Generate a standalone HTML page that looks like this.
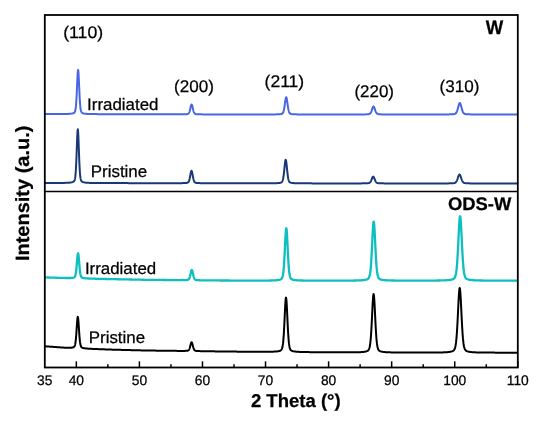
<!DOCTYPE html>
<html><head><meta charset="utf-8"><title>XRD patterns</title>
<style>
html,body{margin:0;padding:0;background:#fff;}
body{width:550px;height:421px;overflow:hidden;}
svg{display:block;}
text{text-rendering:geometricPrecision;font-family:"Liberation Sans",Arial,sans-serif;fill:#000;stroke:#000;stroke-width:0.25;}
.n{font-weight:normal;}
.b{font-weight:bold;}
.tk{font-size:13.8px;text-anchor:middle;}
</style></head><body>
<svg width="550" height="421" viewBox="0 0 550 421">
<rect width="550" height="421" fill="#fff"/>
<polyline fill="none" stroke="#4866e4" stroke-width="2.0" stroke-linejoin="round" points="45.00,113.88 45.50,113.88 46.00,113.89 46.50,113.90 47.00,113.90 47.50,113.91 48.00,113.91 48.50,113.92 49.00,113.93 49.50,113.93 50.00,113.94 50.50,113.94 51.00,113.95 51.50,113.95 52.00,113.96 52.50,113.97 53.00,113.97 53.50,113.98 54.00,113.98 54.50,113.99 55.00,113.99 55.50,114.00 56.00,114.00 56.50,114.00 57.00,114.01 57.50,114.01 58.00,114.02 58.50,114.02 59.00,114.02 59.50,114.03 60.00,114.03 60.50,114.03 61.00,114.03 61.50,114.02 62.00,114.02 62.50,114.01 63.00,114.01 63.50,114.00 64.00,114.00 64.50,113.99 65.00,113.98 65.50,113.97 66.00,113.96 66.50,113.95 67.00,113.94 67.50,113.92 68.00,113.90 68.50,113.88 69.00,113.86 69.50,113.83 70.00,113.79 70.50,113.75 71.00,113.70 71.50,113.63 72.00,113.55 72.50,113.45 73.00,113.32 73.50,113.15 74.00,112.89 74.50,112.45 75.00,111.55 75.10,111.27 75.35,110.33 75.50,109.56 75.60,108.94 75.85,106.95 76.00,105.41 76.10,104.21 76.35,100.63 76.50,98.06 76.60,96.18 76.85,90.98 77.00,87.61 77.10,85.32 77.35,79.67 77.50,76.57 77.60,74.72 77.85,71.26 78.00,70.21 78.10,70.00 78.35,71.26 78.50,73.11 78.60,74.72 78.85,79.68 79.00,83.03 79.10,85.32 79.35,90.99 79.50,94.18 79.60,96.19 79.85,100.64 80.00,102.89 80.10,104.22 80.35,106.96 80.50,108.23 80.60,108.95 80.85,110.34 81.00,110.95 81.10,111.28 81.50,112.19 82.00,112.77 82.50,113.08 83.00,113.28 83.50,113.43 84.00,113.54 84.50,113.63 85.00,113.70 85.50,113.76 86.00,113.81 86.50,113.85 87.00,113.89 87.50,113.92 88.00,113.94 88.50,113.96 89.00,113.98 89.50,114.00 90.00,114.01 90.50,114.03 91.00,114.04 91.50,114.05 92.00,114.06 92.50,114.07 93.00,114.08 93.50,114.08 94.00,114.09 94.50,114.10 95.00,114.10 95.50,114.11 96.00,114.11 96.50,114.12 97.00,114.12 97.50,114.13 98.00,114.13 98.50,114.14 99.00,114.14 99.50,114.14 100.00,114.15 100.50,114.15 101.00,114.15 101.50,114.16 102.00,114.16 102.50,114.16 103.00,114.16 103.50,114.17 104.00,114.17 104.50,114.17 105.00,114.17 105.50,114.18 106.00,114.18 106.50,114.18 107.00,114.18 107.50,114.18 108.00,114.19 108.50,114.19 109.00,114.19 109.50,114.19 110.00,114.19 110.50,114.20 111.00,114.20 111.50,114.20 112.00,114.20 112.50,114.20 113.00,114.20 113.50,114.21 114.00,114.21 114.50,114.21 115.00,114.21 115.50,114.21 116.00,114.21 116.50,114.22 117.00,114.22 117.50,114.22 118.00,114.22 118.50,114.22 119.00,114.22 119.50,114.22 120.00,114.23 120.50,114.23 121.00,114.23 121.50,114.23 122.00,114.23 122.50,114.23 123.00,114.23 123.50,114.24 124.00,114.24 124.50,114.24 125.00,114.24 125.50,114.24 126.00,114.24 126.50,114.24 127.00,114.25 127.50,114.25 128.00,114.25 128.50,114.25 129.00,114.25 129.50,114.25 130.00,114.25 130.50,114.26 131.00,114.26 131.50,114.26 132.00,114.26 132.50,114.26 133.00,114.26 133.50,114.26 134.00,114.26 134.50,114.27 135.00,114.27 135.50,114.27 136.00,114.27 136.50,114.27 137.00,114.27 137.50,114.27 138.00,114.27 138.50,114.28 139.00,114.28 139.50,114.28 140.00,114.28 140.50,114.28 141.00,114.28 141.50,114.28 142.00,114.28 142.50,114.29 143.00,114.29 143.50,114.29 144.00,114.29 144.50,114.29 145.00,114.29 145.50,114.29 146.00,114.29 146.50,114.29 147.00,114.30 147.50,114.30 148.00,114.30 148.50,114.30 149.00,114.30 149.50,114.30 150.00,114.30 150.50,114.30 151.00,114.30 151.50,114.31 152.00,114.31 152.50,114.31 153.00,114.31 153.50,114.31 154.00,114.31 154.50,114.31 155.00,114.31 155.50,114.31 156.00,114.32 156.50,114.32 157.00,114.32 157.50,114.32 158.00,114.32 158.50,114.32 159.00,114.32 159.50,114.32 160.00,114.32 160.50,114.33 161.00,114.33 161.50,114.33 162.00,114.33 162.50,114.33 163.00,114.33 163.50,114.33 164.00,114.33 164.50,114.33 165.00,114.33 165.50,114.33 166.00,114.34 166.50,114.34 167.00,114.34 167.50,114.34 168.00,114.34 168.50,114.34 169.00,114.34 169.50,114.34 170.00,114.34 170.50,114.34 171.00,114.34 171.50,114.34 172.00,114.34 172.50,114.34 173.00,114.34 173.50,114.34 174.00,114.34 174.50,114.34 175.00,114.34 175.50,114.34 176.00,114.34 176.50,114.34 177.00,114.34 177.50,114.34 178.00,114.34 178.50,114.34 179.00,114.33 179.50,114.33 180.00,114.33 180.50,114.33 181.00,114.32 181.50,114.32 182.00,114.31 182.50,114.31 183.00,114.30 183.50,114.29 184.00,114.28 184.50,114.26 185.00,114.24 185.50,114.22 186.00,114.19 186.50,114.15 187.00,114.10 187.50,114.01 188.00,113.83 188.50,113.48 188.60,113.37 188.85,113.04 189.00,112.79 189.10,112.60 189.35,112.03 189.50,111.61 189.60,111.31 189.85,110.44 190.00,109.86 190.10,109.45 190.35,108.36 190.50,107.69 190.60,107.25 190.85,106.19 191.00,105.63 191.10,105.31 191.35,104.71 191.50,104.53 191.60,104.50 191.85,104.71 192.00,105.03 192.10,105.31 192.35,106.20 192.50,106.82 192.60,107.25 192.85,108.37 193.00,109.03 193.10,109.45 193.35,110.45 193.50,110.99 193.60,111.32 193.85,112.04 194.00,112.40 194.10,112.61 194.35,113.06 194.50,113.27 194.60,113.38 195.00,113.73 195.50,113.97 196.00,114.09 196.50,114.16 197.00,114.20 197.50,114.24 198.00,114.27 198.50,114.29 199.00,114.31 199.50,114.32 200.00,114.33 200.50,114.34 201.00,114.35 201.50,114.36 202.00,114.37 202.50,114.38 203.00,114.38 203.50,114.39 204.00,114.39 204.50,114.40 205.00,114.40 205.50,114.40 206.00,114.41 206.50,114.41 207.00,114.41 207.50,114.42 208.00,114.42 208.50,114.42 209.00,114.42 209.50,114.43 210.00,114.43 210.50,114.43 211.00,114.43 211.50,114.44 212.00,114.44 212.50,114.44 213.00,114.44 213.50,114.44 214.00,114.44 214.50,114.45 215.00,114.45 215.50,114.45 216.00,114.45 216.50,114.45 217.00,114.45 217.50,114.46 218.00,114.46 218.50,114.46 219.00,114.46 219.50,114.46 220.00,114.46 220.50,114.46 221.00,114.47 221.50,114.47 222.00,114.47 222.50,114.47 223.00,114.47 223.50,114.47 224.00,114.47 224.50,114.48 225.00,114.48 225.50,114.48 226.00,114.48 226.50,114.48 227.00,114.48 227.50,114.48 228.00,114.48 228.50,114.49 229.00,114.49 229.50,114.49 230.00,114.49 230.50,114.49 231.00,114.49 231.50,114.49 232.00,114.49 232.50,114.49 233.00,114.49 233.50,114.49 234.00,114.49 234.50,114.49 235.00,114.49 235.50,114.49 236.00,114.49 236.50,114.49 237.00,114.49 237.50,114.49 238.00,114.49 238.50,114.49 239.00,114.49 239.50,114.49 240.00,114.49 240.50,114.49 241.00,114.49 241.50,114.49 242.00,114.49 242.50,114.49 243.00,114.49 243.50,114.49 244.00,114.49 244.50,114.49 245.00,114.49 245.50,114.49 246.00,114.49 246.50,114.49 247.00,114.49 247.50,114.49 248.00,114.49 248.50,114.49 249.00,114.49 249.50,114.49 250.00,114.49 250.50,114.49 251.00,114.49 251.50,114.49 252.00,114.49 252.50,114.48 253.00,114.48 253.50,114.48 254.00,114.48 254.50,114.48 255.00,114.48 255.50,114.48 256.00,114.48 256.50,114.48 257.00,114.48 257.50,114.48 258.00,114.48 258.50,114.48 259.00,114.48 259.50,114.48 260.00,114.48 260.50,114.48 261.00,114.48 261.50,114.48 262.00,114.47 262.50,114.47 263.00,114.47 263.50,114.47 264.00,114.47 264.50,114.47 265.00,114.47 265.50,114.47 266.00,114.46 266.50,114.46 267.00,114.46 267.50,114.46 268.00,114.46 268.50,114.46 269.00,114.45 269.50,114.45 270.00,114.45 270.50,114.44 271.00,114.44 271.50,114.44 272.00,114.43 272.50,114.43 273.00,114.42 273.50,114.42 274.00,114.41 274.50,114.40 275.00,114.39 275.50,114.38 276.00,114.37 276.50,114.36 277.00,114.34 277.50,114.33 278.00,114.31 278.50,114.28 279.00,114.25 279.50,114.22 280.00,114.17 280.50,114.12 281.00,114.04 281.50,113.93 282.00,113.74 282.50,113.38 283.00,112.70 283.20,112.29 283.45,111.62 283.50,111.47 283.70,110.76 283.95,109.68 284.00,109.44 284.20,108.37 284.45,106.85 284.50,106.52 284.70,105.15 284.95,103.34 285.00,102.98 285.20,101.53 285.45,99.84 285.50,99.54 285.70,98.45 285.95,97.52 286.00,97.41 286.20,97.20 286.45,97.52 286.50,97.67 286.70,98.45 286.95,99.84 287.00,100.16 287.20,101.53 287.45,103.34 287.50,103.71 287.70,105.15 287.95,106.85 288.00,107.17 288.20,108.37 288.45,109.68 288.50,109.91 288.70,110.76 288.95,111.62 289.00,111.77 289.20,112.29 289.50,112.87 290.00,113.47 290.50,113.78 291.00,113.95 291.50,114.06 292.00,114.13 292.50,114.18 293.00,114.22 293.50,114.26 294.00,114.29 294.50,114.31 295.00,114.33 295.50,114.35 296.00,114.36 296.50,114.37 297.00,114.39 297.50,114.40 298.00,114.40 298.50,114.41 299.00,114.42 299.50,114.42 300.00,114.43 300.50,114.43 301.00,114.44 301.50,114.44 302.00,114.44 302.50,114.45 303.00,114.45 303.50,114.45 304.00,114.46 304.50,114.46 305.00,114.46 305.50,114.46 306.00,114.46 306.50,114.46 307.00,114.47 307.50,114.47 308.00,114.47 308.50,114.47 309.00,114.47 309.50,114.47 310.00,114.47 310.50,114.47 311.00,114.47 311.50,114.48 312.00,114.48 312.50,114.48 313.00,114.48 313.50,114.48 314.00,114.48 314.50,114.48 315.00,114.48 315.50,114.48 316.00,114.48 316.50,114.48 317.00,114.48 317.50,114.48 318.00,114.48 318.50,114.48 319.00,114.48 319.50,114.48 320.00,114.48 320.50,114.48 321.00,114.48 321.50,114.48 322.00,114.49 322.50,114.49 323.00,114.49 323.50,114.49 324.00,114.49 324.50,114.49 325.00,114.49 325.50,114.49 326.00,114.49 326.50,114.49 327.00,114.49 327.50,114.49 328.00,114.49 328.50,114.49 329.00,114.49 329.50,114.49 330.00,114.49 330.50,114.49 331.00,114.49 331.50,114.49 332.00,114.49 332.50,114.49 333.00,114.49 333.50,114.49 334.00,114.49 334.50,114.49 335.00,114.49 335.50,114.49 336.00,114.49 336.50,114.49 337.00,114.49 337.50,114.49 338.00,114.49 338.50,114.49 339.00,114.49 339.50,114.49 340.00,114.49 340.50,114.49 341.00,114.49 341.50,114.49 342.00,114.49 342.50,114.49 343.00,114.49 343.50,114.49 344.00,114.49 344.50,114.49 345.00,114.48 345.50,114.48 346.00,114.48 346.50,114.48 347.00,114.48 347.50,114.48 348.00,114.48 348.50,114.48 349.00,114.48 349.50,114.48 350.00,114.48 350.50,114.48 351.00,114.48 351.50,114.48 352.00,114.48 352.50,114.48 353.00,114.48 353.50,114.48 354.00,114.48 354.50,114.47 355.00,114.47 355.50,114.47 356.00,114.47 356.50,114.47 357.00,114.47 357.50,114.47 358.00,114.46 358.50,114.46 359.00,114.46 359.50,114.46 360.00,114.45 360.50,114.45 361.00,114.45 361.50,114.44 362.00,114.44 362.50,114.43 363.00,114.43 363.50,114.42 364.00,114.41 364.50,114.40 365.00,114.39 365.50,114.38 366.00,114.37 366.50,114.35 367.00,114.32 367.50,114.30 368.00,114.26 368.50,114.19 369.00,114.09 369.50,113.91 370.00,113.59 370.50,113.04 370.75,112.67 371.00,112.21 371.25,111.66 371.50,111.04 371.75,110.35 372.00,109.62 372.25,108.87 372.50,108.14 372.75,107.49 373.00,106.96 373.25,106.62 373.50,106.50 373.75,106.62 374.00,106.96 374.25,107.49 374.50,108.14 374.75,108.87 375.00,109.62 375.25,110.35 375.50,111.04 375.75,111.66 376.00,112.21 376.25,112.67 376.50,113.04 377.00,113.59 377.50,113.91 378.00,114.09 378.50,114.19 379.00,114.26 379.50,114.30 380.00,114.32 380.50,114.35 381.00,114.37 381.50,114.38 382.00,114.39 382.50,114.40 383.00,114.41 383.50,114.42 384.00,114.43 384.50,114.43 385.00,114.44 385.50,114.44 386.00,114.45 386.50,114.45 387.00,114.45 387.50,114.46 388.00,114.46 388.50,114.46 389.00,114.46 389.50,114.47 390.00,114.47 390.50,114.47 391.00,114.47 391.50,114.47 392.00,114.47 392.50,114.47 393.00,114.48 393.50,114.48 394.00,114.48 394.50,114.48 395.00,114.48 395.50,114.48 396.00,114.48 396.50,114.48 397.00,114.48 397.50,114.48 398.00,114.48 398.50,114.48 399.00,114.48 399.50,114.48 400.00,114.48 400.50,114.48 401.00,114.48 401.50,114.48 402.00,114.48 402.50,114.49 403.00,114.49 403.50,114.49 404.00,114.49 404.50,114.49 405.00,114.49 405.50,114.49 406.00,114.49 406.50,114.49 407.00,114.49 407.50,114.49 408.00,114.49 408.50,114.49 409.00,114.49 409.50,114.49 410.00,114.49 410.50,114.49 411.00,114.49 411.50,114.49 412.00,114.49 412.50,114.49 413.00,114.49 413.50,114.49 414.00,114.49 414.50,114.49 415.00,114.49 415.50,114.49 416.00,114.49 416.50,114.49 417.00,114.49 417.50,114.49 418.00,114.49 418.50,114.49 419.00,114.49 419.50,114.49 420.00,114.49 420.50,114.49 421.00,114.49 421.50,114.49 422.00,114.49 422.50,114.49 423.00,114.49 423.50,114.49 424.00,114.49 424.50,114.48 425.00,114.48 425.50,114.48 426.00,114.48 426.50,114.48 427.00,114.48 427.50,114.48 428.00,114.48 428.50,114.48 429.00,114.48 429.50,114.48 430.00,114.48 430.50,114.48 431.00,114.48 431.50,114.48 432.00,114.48 432.50,114.48 433.00,114.48 433.50,114.48 434.00,114.48 434.50,114.48 435.00,114.47 435.50,114.47 436.00,114.47 436.50,114.47 437.00,114.47 437.50,114.47 438.00,114.47 438.50,114.47 439.00,114.47 439.50,114.46 440.00,114.46 440.50,114.46 441.00,114.46 441.50,114.46 442.00,114.45 442.50,114.45 443.00,114.45 443.50,114.45 444.00,114.44 444.50,114.44 445.00,114.44 445.50,114.43 446.00,114.43 446.50,114.42 447.00,114.42 447.50,114.41 448.00,114.40 448.50,114.39 449.00,114.38 449.50,114.37 450.00,114.36 450.50,114.35 451.00,114.33 451.50,114.31 452.00,114.28 452.50,114.26 453.00,114.22 453.50,114.17 454.00,114.11 454.50,114.01 455.00,113.84 455.50,113.56 456.00,113.09 456.50,112.35 456.80,111.74 457.00,111.26 457.05,111.13 457.30,110.43 457.50,109.79 457.55,109.63 457.80,108.75 458.00,108.00 458.05,107.81 458.30,106.84 458.50,106.07 458.55,105.88 458.80,104.97 459.00,104.32 459.05,104.17 459.30,103.54 459.50,103.20 459.55,103.14 459.80,103.00 460.00,103.09 460.05,103.14 460.30,103.54 460.50,104.03 460.55,104.17 460.80,104.97 461.00,105.69 461.05,105.88 461.30,106.84 461.50,107.62 461.55,107.81 461.80,108.75 462.00,109.46 462.05,109.63 462.30,110.43 462.50,111.00 462.55,111.13 462.80,111.74 463.00,112.16 463.50,112.97 464.00,113.48 464.50,113.79 465.00,113.98 465.50,114.09 466.00,114.16 466.50,114.21 467.00,114.25 467.50,114.28 468.00,114.30 468.50,114.33 469.00,114.34 469.50,114.36 470.00,114.37 470.50,114.38 471.00,114.39 471.50,114.40 472.00,114.41 472.50,114.42 473.00,114.42 473.50,114.43 474.00,114.43 474.50,114.44 475.00,114.44 475.50,114.44 476.00,114.45 476.50,114.45 477.00,114.45 477.50,114.46 478.00,114.46 478.50,114.46 479.00,114.46 479.50,114.46 480.00,114.47 480.50,114.47 481.00,114.47 481.50,114.47 482.00,114.47 482.50,114.47 483.00,114.47 483.50,114.47 484.00,114.48 484.50,114.48 485.00,114.48 485.50,114.48 486.00,114.48 486.50,114.48 487.00,114.48 487.50,114.48 488.00,114.48 488.50,114.48 489.00,114.48 489.50,114.48 490.00,114.48 490.50,114.48 491.00,114.48 491.50,114.49 492.00,114.49 492.50,114.49 493.00,114.49 493.50,114.49 494.00,114.49 494.50,114.49 495.00,114.49 495.50,114.49 496.00,114.49 496.50,114.49 497.00,114.49 497.50,114.49 498.00,114.49 498.50,114.49 499.00,114.49 499.50,114.49 500.00,114.49 500.50,114.49 501.00,114.49 501.50,114.49 502.00,114.49 502.50,114.49 503.00,114.49 503.50,114.49 504.00,114.49 504.50,114.49 505.00,114.49 505.50,114.49 506.00,114.49 506.50,114.49 507.00,114.49 507.50,114.49 508.00,114.49 508.50,114.49 509.00,114.49 509.50,114.49 510.00,114.49 510.50,114.49 511.00,114.49 511.50,114.49 512.00,114.49 512.50,114.49 513.00,114.49 513.50,114.49 514.00,114.49 514.50,114.49 515.00,114.49 515.50,114.49 516.00,114.49 516.50,114.49 517.00,114.49 517.50,114.50"/>
<polyline fill="none" stroke="#183878" stroke-width="2.0" stroke-linejoin="round" points="45.00,182.97 45.50,182.97 46.00,182.97 46.50,182.97 47.00,182.97 47.50,182.97 48.00,182.97 48.50,182.97 49.00,182.97 49.50,182.97 50.00,182.97 50.50,182.97 51.00,182.97 51.50,182.97 52.00,182.97 52.50,182.97 53.00,182.97 53.50,182.97 54.00,182.97 54.50,182.96 55.00,182.96 55.50,182.96 56.00,182.96 56.50,182.96 57.00,182.96 57.50,182.95 58.00,182.95 58.50,182.95 59.00,182.95 59.50,182.94 60.00,182.94 60.50,182.93 61.00,182.93 61.50,182.92 62.00,182.92 62.50,182.91 63.00,182.91 63.50,182.90 64.00,182.89 64.50,182.88 65.00,182.87 65.50,182.85 66.00,182.84 66.50,182.82 67.00,182.81 67.50,182.78 68.00,182.76 68.50,182.73 69.00,182.69 69.50,182.65 70.00,182.60 70.50,182.55 71.00,182.47 71.50,182.38 72.00,182.27 72.50,182.13 73.00,181.94 73.50,181.68 74.00,181.26 74.50,180.45 74.80,179.56 75.00,178.68 75.05,178.41 75.30,176.72 75.50,174.85 75.55,174.30 75.80,170.97 76.00,167.56 76.05,166.60 76.30,161.18 76.50,156.18 76.55,154.85 76.80,147.96 77.00,142.42 77.05,141.08 77.30,135.05 77.50,131.48 77.55,130.83 77.80,129.30 78.00,130.29 78.05,130.83 78.30,135.05 78.50,139.78 78.55,141.08 78.80,147.96 79.00,153.51 79.05,154.85 79.30,161.19 79.50,165.61 79.55,166.61 79.80,170.97 80.00,173.72 80.05,174.30 80.30,176.73 80.50,178.13 80.55,178.42 80.80,179.57 81.00,180.21 81.50,181.15 82.00,181.62 82.50,181.91 83.00,182.11 83.50,182.27 84.00,182.38 84.50,182.48 85.00,182.56 85.50,182.62 86.00,182.67 86.50,182.72 87.00,182.75 87.50,182.78 88.00,182.81 88.50,182.84 89.00,182.86 89.50,182.88 90.00,182.89 90.50,182.91 91.00,182.92 91.50,182.93 92.00,182.94 92.50,182.95 93.00,182.96 93.50,182.97 94.00,182.98 94.50,182.98 95.00,182.99 95.50,183.00 96.00,183.00 96.50,183.01 97.00,183.01 97.50,183.02 98.00,183.02 98.50,183.02 99.00,183.03 99.50,183.03 100.00,183.03 100.50,183.04 101.00,183.04 101.50,183.04 102.00,183.05 102.50,183.05 103.00,183.05 103.50,183.05 104.00,183.06 104.50,183.06 105.00,183.06 105.50,183.06 106.00,183.07 106.50,183.07 107.00,183.07 107.50,183.07 108.00,183.07 108.50,183.07 109.00,183.08 109.50,183.08 110.00,183.08 110.50,183.08 111.00,183.08 111.50,183.08 112.00,183.09 112.50,183.09 113.00,183.09 113.50,183.09 114.00,183.09 114.50,183.09 115.00,183.09 115.50,183.10 116.00,183.10 116.50,183.10 117.00,183.10 117.50,183.10 118.00,183.10 118.50,183.10 119.00,183.10 119.50,183.11 120.00,183.11 120.50,183.11 121.00,183.11 121.50,183.11 122.00,183.11 122.50,183.11 123.00,183.11 123.50,183.12 124.00,183.12 124.50,183.12 125.00,183.12 125.50,183.12 126.00,183.12 126.50,183.12 127.00,183.12 127.50,183.12 128.00,183.12 128.50,183.13 129.00,183.13 129.50,183.13 130.00,183.13 130.50,183.13 131.00,183.13 131.50,183.13 132.00,183.13 132.50,183.13 133.00,183.13 133.50,183.14 134.00,183.14 134.50,183.14 135.00,183.14 135.50,183.14 136.00,183.14 136.50,183.14 137.00,183.14 137.50,183.14 138.00,183.14 138.50,183.14 139.00,183.15 139.50,183.15 140.00,183.15 140.50,183.15 141.00,183.15 141.50,183.15 142.00,183.15 142.50,183.15 143.00,183.15 143.50,183.15 144.00,183.15 144.50,183.15 145.00,183.16 145.50,183.16 146.00,183.16 146.50,183.16 147.00,183.16 147.50,183.16 148.00,183.16 148.50,183.16 149.00,183.16 149.50,183.16 150.00,183.16 150.50,183.16 151.00,183.17 151.50,183.17 152.00,183.17 152.50,183.17 153.00,183.17 153.50,183.17 154.00,183.17 154.50,183.17 155.00,183.17 155.50,183.17 156.00,183.17 156.50,183.17 157.00,183.17 157.50,183.17 158.00,183.18 158.50,183.18 159.00,183.18 159.50,183.18 160.00,183.18 160.50,183.18 161.00,183.18 161.50,183.18 162.00,183.18 162.50,183.18 163.00,183.18 163.50,183.18 164.00,183.18 164.50,183.18 165.00,183.18 165.50,183.18 166.00,183.18 166.50,183.18 167.00,183.18 167.50,183.18 168.00,183.18 168.50,183.18 169.00,183.18 169.50,183.18 170.00,183.18 170.50,183.18 171.00,183.18 171.50,183.18 172.00,183.18 172.50,183.18 173.00,183.18 173.50,183.18 174.00,183.18 174.50,183.18 175.00,183.18 175.50,183.18 176.00,183.18 176.50,183.18 177.00,183.17 177.50,183.17 178.00,183.17 178.50,183.17 179.00,183.16 179.50,183.16 180.00,183.16 180.50,183.15 181.00,183.14 181.50,183.14 182.00,183.13 182.50,183.12 183.00,183.11 183.50,183.10 184.00,183.08 184.50,183.06 185.00,183.04 185.50,183.01 186.00,182.97 186.50,182.92 187.00,182.84 187.50,182.71 188.00,182.45 188.50,181.94 188.75,181.53 189.00,180.97 189.25,180.25 189.50,179.35 189.75,178.26 190.00,177.01 190.25,175.65 190.50,174.25 190.75,172.93 191.00,171.81 191.25,171.06 191.50,170.79 191.75,171.06 192.00,171.81 192.25,172.93 192.50,174.25 192.75,175.65 193.00,177.02 193.25,178.27 193.50,179.35 193.75,180.26 194.00,180.98 194.25,181.54 194.50,181.95 195.00,182.46 195.50,182.72 196.00,182.85 196.50,182.93 197.00,182.98 197.50,183.02 198.00,183.06 198.50,183.08 199.00,183.10 199.50,183.12 200.00,183.13 200.50,183.15 201.00,183.16 201.50,183.17 202.00,183.18 202.50,183.18 203.00,183.19 203.50,183.19 204.00,183.20 204.50,183.20 205.00,183.21 205.50,183.21 206.00,183.22 206.50,183.22 207.00,183.22 207.50,183.23 208.00,183.23 208.50,183.23 209.00,183.23 209.50,183.24 210.00,183.24 210.50,183.24 211.00,183.24 211.50,183.24 212.00,183.24 212.50,183.25 213.00,183.25 213.50,183.25 214.00,183.25 214.50,183.25 215.00,183.25 215.50,183.25 216.00,183.26 216.50,183.26 217.00,183.26 217.50,183.26 218.00,183.26 218.50,183.26 219.00,183.26 219.50,183.26 220.00,183.27 220.50,183.27 221.00,183.27 221.50,183.27 222.00,183.27 222.50,183.27 223.00,183.27 223.50,183.27 224.00,183.27 224.50,183.27 225.00,183.27 225.50,183.28 226.00,183.28 226.50,183.28 227.00,183.28 227.50,183.28 228.00,183.28 228.50,183.28 229.00,183.28 229.50,183.28 230.00,183.28 230.50,183.28 231.00,183.28 231.50,183.29 232.00,183.29 232.50,183.29 233.00,183.29 233.50,183.29 234.00,183.29 234.50,183.29 235.00,183.29 235.50,183.29 236.00,183.29 236.50,183.29 237.00,183.29 237.50,183.29 238.00,183.29 238.50,183.30 239.00,183.30 239.50,183.30 240.00,183.30 240.50,183.30 241.00,183.30 241.50,183.30 242.00,183.30 242.50,183.30 243.00,183.30 243.50,183.30 244.00,183.30 244.50,183.30 245.00,183.30 245.50,183.30 246.00,183.30 246.50,183.30 247.00,183.31 247.50,183.31 248.00,183.31 248.50,183.31 249.00,183.31 249.50,183.31 250.00,183.31 250.50,183.31 251.00,183.31 251.50,183.31 252.00,183.31 252.50,183.31 253.00,183.31 253.50,183.31 254.00,183.31 254.50,183.31 255.00,183.31 255.50,183.31 256.00,183.31 256.50,183.31 257.00,183.31 257.50,183.31 258.00,183.31 258.50,183.31 259.00,183.31 259.50,183.31 260.00,183.31 260.50,183.31 261.00,183.31 261.50,183.31 262.00,183.31 262.50,183.31 263.00,183.31 263.50,183.31 264.00,183.31 264.50,183.30 265.00,183.30 265.50,183.30 266.00,183.30 266.50,183.30 267.00,183.30 267.50,183.29 268.00,183.29 268.50,183.29 269.00,183.29 269.50,183.28 270.00,183.28 270.50,183.28 271.00,183.27 271.50,183.27 272.00,183.26 272.50,183.25 273.00,183.25 273.50,183.24 274.00,183.23 274.50,183.22 275.00,183.20 275.50,183.19 276.00,183.17 276.50,183.15 277.00,183.13 277.50,183.10 278.00,183.07 278.50,183.03 279.00,182.98 279.50,182.92 280.00,182.85 280.50,182.74 281.00,182.59 281.50,182.33 282.00,181.84 282.50,180.91 282.70,180.35 282.95,179.44 283.00,179.22 283.20,178.26 283.45,176.78 283.50,176.44 283.70,174.99 283.95,172.91 284.00,172.46 284.20,170.58 284.45,168.10 284.50,167.60 284.70,165.62 284.95,163.32 285.00,162.90 285.20,161.41 285.45,160.14 285.50,159.98 285.70,159.70 285.95,160.14 286.00,160.34 286.20,161.41 286.45,163.32 286.50,163.76 286.70,165.62 286.95,168.11 287.00,168.61 287.20,170.58 287.45,172.91 287.50,173.35 287.70,174.99 287.95,176.78 288.00,177.11 288.20,178.26 288.45,179.44 288.50,179.65 288.70,180.36 289.00,181.16 289.50,181.98 290.00,182.41 290.50,182.64 291.00,182.78 291.50,182.88 292.00,182.95 292.50,183.01 293.00,183.06 293.50,183.10 294.00,183.13 294.50,183.16 295.00,183.19 295.50,183.21 296.00,183.22 296.50,183.24 297.00,183.25 297.50,183.27 298.00,183.28 298.50,183.29 299.00,183.29 299.50,183.30 300.00,183.31 300.50,183.32 301.00,183.32 301.50,183.33 302.00,183.33 302.50,183.33 303.00,183.34 303.50,183.34 304.00,183.34 304.50,183.35 305.00,183.35 305.50,183.35 306.00,183.36 306.50,183.36 307.00,183.36 307.50,183.36 308.00,183.36 308.50,183.37 309.00,183.37 309.50,183.37 310.00,183.37 310.50,183.37 311.00,183.37 311.50,183.37 312.00,183.38 312.50,183.38 313.00,183.38 313.50,183.38 314.00,183.38 314.50,183.38 315.00,183.38 315.50,183.38 316.00,183.38 316.50,183.38 317.00,183.39 317.50,183.39 318.00,183.39 318.50,183.39 319.00,183.39 319.50,183.39 320.00,183.39 320.50,183.39 321.00,183.39 321.50,183.39 322.00,183.39 322.50,183.39 323.00,183.39 323.50,183.39 324.00,183.39 324.50,183.39 325.00,183.40 325.50,183.40 326.00,183.40 326.50,183.40 327.00,183.40 327.50,183.40 328.00,183.40 328.50,183.40 329.00,183.40 329.50,183.40 330.00,183.40 330.50,183.40 331.00,183.40 331.50,183.40 332.00,183.40 332.50,183.40 333.00,183.40 333.50,183.40 334.00,183.40 334.50,183.40 335.00,183.40 335.50,183.40 336.00,183.40 336.50,183.40 337.00,183.40 337.50,183.40 338.00,183.40 338.50,183.40 339.00,183.40 339.50,183.40 340.00,183.40 340.50,183.40 341.00,183.40 341.50,183.41 342.00,183.41 342.50,183.41 343.00,183.41 343.50,183.41 344.00,183.41 344.50,183.41 345.00,183.41 345.50,183.41 346.00,183.41 346.50,183.41 347.00,183.41 347.50,183.41 348.00,183.41 348.50,183.41 349.00,183.41 349.50,183.40 350.00,183.40 350.50,183.40 351.00,183.40 351.50,183.40 352.00,183.40 352.50,183.40 353.00,183.40 353.50,183.40 354.00,183.40 354.50,183.40 355.00,183.40 355.50,183.40 356.00,183.40 356.50,183.40 357.00,183.40 357.50,183.39 358.00,183.39 358.50,183.39 359.00,183.39 359.50,183.39 360.00,183.39 360.50,183.38 361.00,183.38 361.50,183.38 362.00,183.37 362.50,183.37 363.00,183.36 363.50,183.36 364.00,183.35 364.50,183.34 365.00,183.33 365.50,183.32 366.00,183.31 366.50,183.29 367.00,183.27 367.50,183.24 368.00,183.19 368.50,183.12 369.00,183.00 369.50,182.78 370.00,182.40 370.20,182.19 370.45,181.87 370.50,181.79 370.70,181.47 370.95,181.01 371.00,180.91 371.20,180.48 371.45,179.89 371.50,179.77 371.70,179.26 371.95,178.62 372.00,178.50 372.20,178.00 372.45,177.44 372.50,177.34 372.70,176.99 372.95,176.70 373.00,176.66 373.20,176.60 373.45,176.70 373.50,176.75 373.70,177.00 373.95,177.44 374.00,177.55 374.20,178.00 374.45,178.62 374.50,178.75 374.70,179.27 374.95,179.89 375.00,180.02 375.20,180.48 375.45,181.01 375.50,181.11 375.70,181.48 375.95,181.87 376.00,181.94 376.20,182.19 376.50,182.50 377.00,182.84 377.50,183.03 378.00,183.14 378.50,183.21 379.00,183.25 379.50,183.28 380.00,183.30 380.50,183.32 381.00,183.33 381.50,183.34 382.00,183.35 382.50,183.36 383.00,183.37 383.50,183.37 384.00,183.38 384.50,183.38 385.00,183.39 385.50,183.39 386.00,183.40 386.50,183.40 387.00,183.40 387.50,183.40 388.00,183.41 388.50,183.41 389.00,183.41 389.50,183.41 390.00,183.41 390.50,183.42 391.00,183.42 391.50,183.42 392.00,183.42 392.50,183.42 393.00,183.42 393.50,183.42 394.00,183.42 394.50,183.42 395.00,183.43 395.50,183.43 396.00,183.43 396.50,183.43 397.00,183.43 397.50,183.43 398.00,183.43 398.50,183.43 399.00,183.43 399.50,183.43 400.00,183.43 400.50,183.43 401.00,183.43 401.50,183.43 402.00,183.43 402.50,183.43 403.00,183.43 403.50,183.44 404.00,183.44 404.50,183.44 405.00,183.44 405.50,183.44 406.00,183.44 406.50,183.44 407.00,183.44 407.50,183.44 408.00,183.44 408.50,183.44 409.00,183.44 409.50,183.44 410.00,183.44 410.50,183.44 411.00,183.44 411.50,183.44 412.00,183.44 412.50,183.44 413.00,183.44 413.50,183.44 414.00,183.44 414.50,183.44 415.00,183.44 415.50,183.44 416.00,183.44 416.50,183.44 417.00,183.44 417.50,183.44 418.00,183.44 418.50,183.44 419.00,183.44 419.50,183.44 420.00,183.44 420.50,183.44 421.00,183.44 421.50,183.44 422.00,183.44 422.50,183.44 423.00,183.44 423.50,183.44 424.00,183.44 424.50,183.44 425.00,183.44 425.50,183.44 426.00,183.44 426.50,183.44 427.00,183.44 427.50,183.44 428.00,183.44 428.50,183.44 429.00,183.44 429.50,183.44 430.00,183.44 430.50,183.44 431.00,183.44 431.50,183.44 432.00,183.44 432.50,183.44 433.00,183.44 433.50,183.44 434.00,183.44 434.50,183.44 435.00,183.44 435.50,183.44 436.00,183.44 436.50,183.44 437.00,183.44 437.50,183.44 438.00,183.44 438.50,183.44 439.00,183.44 439.50,183.43 440.00,183.43 440.50,183.43 441.00,183.43 441.50,183.43 442.00,183.43 442.50,183.43 443.00,183.42 443.50,183.42 444.00,183.42 444.50,183.42 445.00,183.41 445.50,183.41 446.00,183.41 446.50,183.40 447.00,183.40 447.50,183.39 448.00,183.39 448.50,183.38 449.00,183.37 449.50,183.36 450.00,183.35 450.50,183.34 451.00,183.33 451.50,183.31 452.00,183.29 452.50,183.26 453.00,183.23 453.50,183.19 454.00,183.12 454.50,183.02 455.00,182.84 455.50,182.54 456.00,182.06 456.50,181.32 456.75,180.85 457.00,180.29 457.25,179.67 457.50,178.99 457.75,178.25 458.00,177.50 458.25,176.75 458.50,176.04 458.75,175.42 459.00,174.93 459.25,174.61 459.50,174.50 459.75,174.61 460.00,174.93 460.25,175.42 460.50,176.04 460.75,176.75 461.00,177.50 461.25,178.25 461.50,178.99 461.75,179.67 462.00,180.30 462.25,180.85 462.50,181.32 463.00,182.06 463.50,182.54 464.00,182.84 464.50,183.02 465.00,183.13 465.50,183.19 466.00,183.24 466.50,183.27 467.00,183.30 467.50,183.32 468.00,183.33 468.50,183.35 469.00,183.36 469.50,183.37 470.00,183.38 470.50,183.39 471.00,183.40 471.50,183.40 472.00,183.41 472.50,183.42 473.00,183.42 473.50,183.42 474.00,183.43 474.50,183.43 475.00,183.43 475.50,183.44 476.00,183.44 476.50,183.44 477.00,183.45 477.50,183.45 478.00,183.45 478.50,183.45 479.00,183.45 479.50,183.45 480.00,183.46 480.50,183.46 481.00,183.46 481.50,183.46 482.00,183.46 482.50,183.46 483.00,183.46 483.50,183.46 484.00,183.47 484.50,183.47 485.00,183.47 485.50,183.47 486.00,183.47 486.50,183.47 487.00,183.47 487.50,183.47 488.00,183.47 488.50,183.47 489.00,183.47 489.50,183.47 490.00,183.47 490.50,183.48 491.00,183.48 491.50,183.48 492.00,183.48 492.50,183.48 493.00,183.48 493.50,183.48 494.00,183.48 494.50,183.48 495.00,183.48 495.50,183.48 496.00,183.48 496.50,183.48 497.00,183.48 497.50,183.48 498.00,183.48 498.50,183.48 499.00,183.48 499.50,183.48 500.00,183.48 500.50,183.48 501.00,183.48 501.50,183.49 502.00,183.49 502.50,183.49 503.00,183.49 503.50,183.49 504.00,183.49 504.50,183.49 505.00,183.49 505.50,183.49 506.00,183.49 506.50,183.49 507.00,183.49 507.50,183.49 508.00,183.49 508.50,183.49 509.00,183.49 509.50,183.49 510.00,183.49 510.50,183.49 511.00,183.49 511.50,183.49 512.00,183.49 512.50,183.49 513.00,183.49 513.50,183.49 514.00,183.49 514.50,183.49 515.00,183.49 515.50,183.49 516.00,183.49 516.50,183.50 517.00,183.50 517.50,183.50"/>
<polyline fill="none" stroke="#0dbfc0" stroke-width="2.3" stroke-linejoin="round" points="45.00,277.38 45.50,277.40 46.00,277.42 46.50,277.43 47.00,277.45 47.50,277.47 48.00,277.48 48.50,277.50 49.00,277.51 49.50,277.53 50.00,277.55 50.50,277.56 51.00,277.58 51.50,277.59 52.00,277.61 52.50,277.63 53.00,277.64 53.50,277.66 54.00,277.67 54.50,277.69 55.00,277.70 55.50,277.72 56.00,277.73 56.50,277.75 57.00,277.76 57.50,277.78 58.00,277.79 58.50,277.81 59.00,277.82 59.50,277.84 60.00,277.85 60.50,277.87 61.00,277.88 61.50,277.89 62.00,277.91 62.50,277.92 63.00,277.93 63.50,277.94 64.00,277.96 64.50,277.97 65.00,277.98 65.50,277.99 66.00,278.00 66.50,278.00 67.00,278.01 67.50,278.02 68.00,278.02 68.50,278.02 69.00,278.02 69.50,278.02 70.00,278.01 70.50,278.00 71.00,277.98 71.50,277.95 72.00,277.91 72.50,277.86 73.00,277.78 73.50,277.67 74.00,277.48 74.50,277.13 75.00,276.39 75.05,276.29 75.30,275.60 75.50,274.86 75.55,274.65 75.80,273.34 76.00,272.01 76.05,271.63 76.30,269.50 76.50,267.49 76.55,266.95 76.80,264.09 77.00,261.67 77.05,261.07 77.30,258.14 77.50,256.09 77.55,255.64 77.80,253.92 78.00,253.33 78.05,253.31 78.30,253.93 78.50,255.24 78.55,255.66 78.80,258.18 79.00,260.51 79.05,261.11 79.30,264.14 79.50,266.46 79.55,267.02 79.80,269.57 80.00,271.32 80.05,271.72 80.30,273.44 80.50,274.52 80.55,274.75 80.80,275.72 81.00,276.29 81.05,276.41 81.50,277.17 82.00,277.60 82.50,277.83 83.00,277.97 83.50,278.08 84.00,278.16 84.50,278.23 85.00,278.28 85.50,278.33 86.00,278.37 86.50,278.41 87.00,278.44 87.50,278.47 88.00,278.49 88.50,278.52 89.00,278.54 89.50,278.56 90.00,278.58 90.50,278.60 91.00,278.62 91.50,278.63 92.00,278.65 92.50,278.67 93.00,278.68 93.50,278.70 94.00,278.71 94.50,278.72 95.00,278.74 95.50,278.75 96.00,278.77 96.50,278.78 97.00,278.79 97.50,278.80 98.00,278.82 98.50,278.83 99.00,278.84 99.50,278.85 100.00,278.87 100.50,278.88 101.00,278.89 101.50,278.90 102.00,278.91 102.50,278.92 103.00,278.93 103.50,278.94 104.00,278.95 104.50,278.97 105.00,278.98 105.50,278.99 106.00,279.00 106.50,279.01 107.00,279.02 107.50,279.03 108.00,279.04 108.50,279.05 109.00,279.06 109.50,279.07 110.00,279.08 110.50,279.09 111.00,279.10 111.50,279.11 112.00,279.12 112.50,279.13 113.00,279.14 113.50,279.15 114.00,279.16 114.50,279.17 115.00,279.18 115.50,279.20 116.00,279.21 116.50,279.22 117.00,279.23 117.50,279.24 118.00,279.25 118.50,279.26 119.00,279.27 119.50,279.28 120.00,279.29 120.50,279.30 121.00,279.31 121.50,279.32 122.00,279.33 122.50,279.34 123.00,279.35 123.50,279.36 124.00,279.37 124.50,279.38 125.00,279.39 125.50,279.40 126.00,279.41 126.50,279.42 127.00,279.43 127.50,279.44 128.00,279.45 128.50,279.46 129.00,279.47 129.50,279.48 130.00,279.49 130.50,279.50 131.00,279.51 131.50,279.52 132.00,279.53 132.50,279.54 133.00,279.55 133.50,279.56 134.00,279.57 134.50,279.58 135.00,279.59 135.50,279.60 136.00,279.61 136.50,279.62 137.00,279.63 137.50,279.64 138.00,279.65 138.50,279.66 139.00,279.67 139.50,279.68 140.00,279.69 140.50,279.70 141.00,279.71 141.50,279.72 142.00,279.73 142.50,279.74 143.00,279.75 143.50,279.76 144.00,279.77 144.50,279.78 145.00,279.79 145.50,279.79 146.00,279.80 146.50,279.81 147.00,279.81 147.50,279.82 148.00,279.82 148.50,279.83 149.00,279.83 149.50,279.84 150.00,279.84 150.50,279.85 151.00,279.85 151.50,279.86 152.00,279.86 152.50,279.87 153.00,279.88 153.50,279.88 154.00,279.89 154.50,279.89 155.00,279.90 155.50,279.90 156.00,279.91 156.50,279.91 157.00,279.92 157.50,279.92 158.00,279.93 158.50,279.93 159.00,279.94 159.50,279.94 160.00,279.95 160.50,279.95 161.00,279.96 161.50,279.96 162.00,279.97 162.50,279.98 163.00,279.98 163.50,279.99 164.00,279.99 164.50,280.00 165.00,280.00 165.50,280.01 166.00,280.01 166.50,280.02 167.00,280.02 167.50,280.03 168.00,280.03 168.50,280.04 169.00,280.04 169.50,280.05 170.00,280.05 170.50,280.06 171.00,280.06 171.50,280.06 172.00,280.07 172.50,280.07 173.00,280.08 173.50,280.08 174.00,280.09 174.50,280.09 175.00,280.09 175.50,280.10 176.00,280.10 176.50,280.11 177.00,280.11 177.50,280.11 178.00,280.12 178.50,280.12 179.00,280.12 179.50,280.12 180.00,280.12 180.50,280.13 181.00,280.13 181.50,280.13 182.00,280.12 182.50,280.12 183.00,280.12 183.50,280.11 184.00,280.11 184.50,280.10 185.00,280.08 185.50,280.07 186.00,280.04 186.50,280.01 187.00,279.97 187.50,279.89 188.00,279.76 188.50,279.48 188.80,279.19 189.00,278.93 189.05,278.85 189.30,278.39 189.50,277.93 189.55,277.80 189.80,277.05 190.00,276.34 190.05,276.14 190.30,275.11 190.50,274.20 190.55,273.97 190.80,272.81 191.00,271.92 191.05,271.71 191.30,270.78 191.50,270.26 191.55,270.16 191.80,269.94 192.00,270.09 192.05,270.17 192.30,270.79 192.50,271.52 192.55,271.72 192.80,272.83 193.00,273.77 193.05,274.00 193.30,275.14 193.50,275.98 193.55,276.18 193.80,277.09 194.00,277.71 194.05,277.84 194.30,278.45 194.50,278.83 194.55,278.91 194.80,279.26 195.00,279.47 195.50,279.80 196.00,279.96 196.50,280.06 197.00,280.12 197.50,280.16 198.00,280.20 198.50,280.23 199.00,280.25 199.50,280.27 200.00,280.29 200.50,280.30 201.00,280.31 201.50,280.32 202.00,280.33 202.50,280.34 203.00,280.35 203.50,280.36 204.00,280.36 204.50,280.37 205.00,280.37 205.50,280.38 206.00,280.38 206.50,280.39 207.00,280.39 207.50,280.40 208.00,280.40 208.50,280.41 209.00,280.41 209.50,280.41 210.00,280.42 210.50,280.42 211.00,280.42 211.50,280.43 212.00,280.43 212.50,280.43 213.00,280.44 213.50,280.44 214.00,280.44 214.50,280.45 215.00,280.45 215.50,280.45 216.00,280.45 216.50,280.46 217.00,280.46 217.50,280.46 218.00,280.47 218.50,280.47 219.00,280.47 219.50,280.47 220.00,280.48 220.50,280.48 221.00,280.48 221.50,280.48 222.00,280.49 222.50,280.49 223.00,280.49 223.50,280.49 224.00,280.50 224.50,280.50 225.00,280.50 225.50,280.50 226.00,280.51 226.50,280.51 227.00,280.51 227.50,280.51 228.00,280.52 228.50,280.52 229.00,280.52 229.50,280.52 230.00,280.53 230.50,280.53 231.00,280.53 231.50,280.53 232.00,280.53 232.50,280.54 233.00,280.54 233.50,280.54 234.00,280.54 234.50,280.55 235.00,280.55 235.50,280.55 236.00,280.55 236.50,280.55 237.00,280.56 237.50,280.56 238.00,280.56 238.50,280.56 239.00,280.57 239.50,280.57 240.00,280.57 240.50,280.57 241.00,280.57 241.50,280.58 242.00,280.58 242.50,280.58 243.00,280.58 243.50,280.58 244.00,280.59 244.50,280.59 245.00,280.59 245.50,280.59 246.00,280.59 246.50,280.60 247.00,280.60 247.50,280.60 248.00,280.60 248.50,280.60 249.00,280.60 249.50,280.61 250.00,280.61 250.50,280.61 251.00,280.61 251.50,280.61 252.00,280.61 252.50,280.61 253.00,280.62 253.50,280.62 254.00,280.62 254.50,280.62 255.00,280.62 255.50,280.62 256.00,280.62 256.50,280.62 257.00,280.62 257.50,280.62 258.00,280.62 258.50,280.62 259.00,280.63 259.50,280.63 260.00,280.63 260.50,280.62 261.00,280.62 261.50,280.62 262.00,280.61 262.50,280.61 263.00,280.61 263.50,280.60 264.00,280.60 264.50,280.60 265.00,280.59 265.50,280.59 266.00,280.58 266.50,280.58 267.00,280.57 267.50,280.56 268.00,280.56 268.50,280.55 269.00,280.54 269.50,280.53 270.00,280.52 270.50,280.51 271.00,280.50 271.50,280.49 272.00,280.47 272.50,280.45 273.00,280.44 273.50,280.42 274.00,280.39 274.50,280.37 275.00,280.34 275.50,280.31 276.00,280.27 276.50,280.23 277.00,280.18 277.50,280.12 278.00,280.06 278.50,279.98 279.00,279.88 279.50,279.76 280.00,279.62 280.50,279.43 281.00,279.18 281.50,278.79 282.00,278.13 282.50,276.91 283.00,274.69 283.30,272.62 283.50,270.85 283.55,270.35 283.80,267.51 284.00,264.81 284.05,264.07 284.30,260.02 284.50,256.39 284.55,255.44 284.80,250.44 285.00,246.28 285.05,245.23 285.30,240.11 285.50,236.32 285.55,235.44 285.80,231.63 286.00,229.50 286.05,229.12 286.30,228.24 286.50,228.80 286.55,229.12 286.80,231.63 287.00,234.59 287.05,235.43 287.30,240.11 287.50,244.19 287.55,245.23 287.80,250.44 288.00,254.46 288.05,255.43 288.30,260.02 288.50,263.30 288.55,264.07 288.80,267.51 289.00,269.83 289.05,270.35 289.30,272.62 289.50,274.07 290.00,276.57 290.50,277.94 291.00,278.68 291.50,279.11 292.00,279.39 292.50,279.58 293.00,279.73 293.50,279.85 294.00,279.95 294.50,280.04 295.00,280.11 295.50,280.17 296.00,280.22 296.50,280.26 297.00,280.30 297.50,280.33 298.00,280.36 298.50,280.38 299.00,280.41 299.50,280.43 300.00,280.45 300.50,280.46 301.00,280.48 301.50,280.49 302.00,280.50 302.50,280.51 303.00,280.52 303.50,280.53 304.00,280.54 304.50,280.55 305.00,280.55 305.50,280.56 306.00,280.57 306.50,280.57 307.00,280.58 307.50,280.58 308.00,280.58 308.50,280.59 309.00,280.59 309.50,280.60 310.00,280.60 310.50,280.60 311.00,280.60 311.50,280.61 312.00,280.61 312.50,280.61 313.00,280.61 313.50,280.62 314.00,280.62 314.50,280.62 315.00,280.62 315.50,280.62 316.00,280.62 316.50,280.63 317.00,280.63 317.50,280.63 318.00,280.63 318.50,280.63 319.00,280.63 319.50,280.63 320.00,280.63 320.50,280.63 321.00,280.63 321.50,280.63 322.00,280.64 322.50,280.64 323.00,280.64 323.50,280.64 324.00,280.64 324.50,280.64 325.00,280.64 325.50,280.64 326.00,280.64 326.50,280.64 327.00,280.64 327.50,280.64 328.00,280.64 328.50,280.64 329.00,280.64 329.50,280.64 330.00,280.64 330.50,280.64 331.00,280.64 331.50,280.64 332.00,280.64 332.50,280.64 333.00,280.63 333.50,280.63 334.00,280.63 334.50,280.63 335.00,280.63 335.50,280.63 336.00,280.63 336.50,280.63 337.00,280.63 337.50,280.63 338.00,280.63 338.50,280.63 339.00,280.62 339.50,280.62 340.00,280.62 340.50,280.62 341.00,280.62 341.50,280.62 342.00,280.62 342.50,280.61 343.00,280.61 343.50,280.61 344.00,280.61 344.50,280.61 345.00,280.60 345.50,280.60 346.00,280.60 346.50,280.59 347.00,280.59 347.50,280.59 348.00,280.58 348.50,280.58 349.00,280.58 349.50,280.57 350.00,280.57 350.50,280.56 351.00,280.56 351.50,280.55 352.00,280.55 352.50,280.54 353.00,280.53 353.50,280.53 354.00,280.52 354.50,280.51 355.00,280.50 355.50,280.49 356.00,280.48 356.50,280.47 357.00,280.46 357.50,280.44 358.00,280.43 358.50,280.41 359.00,280.39 359.50,280.37 360.00,280.35 360.50,280.32 361.00,280.29 361.50,280.26 362.00,280.23 362.50,280.19 363.00,280.14 363.50,280.09 364.00,280.03 364.50,279.96 365.00,279.88 365.50,279.78 366.00,279.67 366.50,279.53 367.00,279.36 367.50,279.14 368.00,278.83 368.50,278.37 369.00,277.60 369.50,276.28 370.00,274.00 370.50,270.28 370.70,268.27 370.95,265.28 371.00,264.62 371.20,261.75 371.45,257.67 371.50,256.79 371.70,253.10 371.95,248.14 372.00,247.11 372.20,242.93 372.45,237.70 372.50,236.67 372.70,232.70 372.95,228.25 373.00,227.46 373.20,224.72 373.45,222.43 373.50,222.14 373.70,221.63 373.95,222.43 374.00,222.77 374.20,224.72 374.45,228.25 374.50,229.08 374.70,232.70 374.95,237.70 375.00,238.74 375.20,242.93 375.45,248.14 375.50,249.16 375.70,253.10 375.95,257.67 376.00,258.53 376.20,261.75 376.45,265.28 376.50,265.92 376.70,268.27 377.00,271.16 377.50,274.56 378.00,276.60 378.50,277.79 379.00,278.48 379.50,278.90 380.00,279.18 380.50,279.39 381.00,279.56 381.50,279.69 382.00,279.80 382.50,279.89 383.00,279.97 383.50,280.04 384.00,280.10 384.50,280.15 385.00,280.19 385.50,280.23 386.00,280.27 386.50,280.30 387.00,280.32 387.50,280.35 388.00,280.37 388.50,280.39 389.00,280.41 389.50,280.43 390.00,280.44 390.50,280.45 391.00,280.47 391.50,280.48 392.00,280.49 392.50,280.50 393.00,280.51 393.50,280.51 394.00,280.52 394.50,280.53 395.00,280.54 395.50,280.54 396.00,280.55 396.50,280.55 397.00,280.56 397.50,280.56 398.00,280.57 398.50,280.57 399.00,280.57 399.50,280.58 400.00,280.58 400.50,280.58 401.00,280.59 401.50,280.59 402.00,280.59 402.50,280.59 403.00,280.60 403.50,280.60 404.00,280.60 404.50,280.60 405.00,280.60 405.50,280.60 406.00,280.61 406.50,280.61 407.00,280.61 407.50,280.61 408.00,280.61 408.50,280.61 409.00,280.61 409.50,280.61 410.00,280.61 410.50,280.62 411.00,280.62 411.50,280.62 412.00,280.62 412.50,280.62 413.00,280.62 413.50,280.62 414.00,280.62 414.50,280.62 415.00,280.62 415.50,280.62 416.00,280.62 416.50,280.62 417.00,280.62 417.50,280.62 418.00,280.62 418.50,280.62 419.00,280.62 419.50,280.62 420.00,280.61 420.50,280.61 421.00,280.61 421.50,280.61 422.00,280.61 422.50,280.61 423.00,280.61 423.50,280.61 424.00,280.61 424.50,280.61 425.00,280.60 425.50,280.60 426.00,280.60 426.50,280.60 427.00,280.60 427.50,280.60 428.00,280.59 428.50,280.59 429.00,280.59 429.50,280.59 430.00,280.58 430.50,280.58 431.00,280.58 431.50,280.57 432.00,280.57 432.50,280.57 433.00,280.56 433.50,280.56 434.00,280.56 434.50,280.55 435.00,280.55 435.50,280.54 436.00,280.54 436.50,280.53 437.00,280.52 437.50,280.52 438.00,280.51 438.50,280.50 439.00,280.49 439.50,280.48 440.00,280.47 440.50,280.46 441.00,280.45 441.50,280.44 442.00,280.43 442.50,280.41 443.00,280.40 443.50,280.38 444.00,280.36 444.50,280.34 445.00,280.32 445.50,280.29 446.00,280.27 446.50,280.24 447.00,280.20 447.50,280.16 448.00,280.12 448.50,280.07 449.00,280.02 449.50,279.96 450.00,279.89 450.50,279.80 451.00,279.71 451.50,279.60 452.00,279.47 452.50,279.31 453.00,279.12 453.50,278.86 454.00,278.51 454.50,277.98 455.00,277.13 455.50,275.73 456.00,273.46 456.50,269.90 457.00,264.65 457.10,263.37 457.35,259.82 457.50,257.46 457.60,255.80 457.85,251.33 458.00,248.46 458.10,246.49 458.35,241.40 458.50,238.29 458.60,236.21 458.85,231.12 459.00,228.22 459.10,226.38 459.35,222.24 459.50,220.18 459.60,219.02 459.85,216.95 460.00,216.35 460.10,216.24 460.35,216.95 460.50,218.04 460.60,219.02 460.85,222.24 461.00,224.63 461.10,226.38 461.35,231.12 461.50,234.15 461.60,236.21 461.85,241.40 462.00,244.48 462.10,246.49 462.35,251.33 462.50,254.06 462.60,255.80 462.85,259.82 463.00,262.01 463.10,263.37 463.50,268.02 464.00,272.21 464.50,274.95 465.00,276.65 465.50,277.69 466.00,278.33 466.50,278.74 467.00,279.03 467.50,279.24 468.00,279.41 468.50,279.55 469.00,279.67 469.50,279.77 470.00,279.86 470.50,279.93 471.00,280.00 471.50,280.06 472.00,280.11 472.50,280.15 473.00,280.19 473.50,280.23 474.00,280.26 474.50,280.29 475.00,280.32 475.50,280.34 476.00,280.36 476.50,280.38 477.00,280.40 477.50,280.42 478.00,280.43 478.50,280.44 479.00,280.46 479.50,280.47 480.00,280.48 480.50,280.49 481.00,280.50 481.50,280.51 482.00,280.52 482.50,280.52 483.00,280.53 483.50,280.54 484.00,280.55 484.50,280.55 485.00,280.56 485.50,280.56 486.00,280.57 486.50,280.57 487.00,280.58 487.50,280.58 488.00,280.58 488.50,280.59 489.00,280.59 489.50,280.60 490.00,280.60 490.50,280.60 491.00,280.61 491.50,280.61 492.00,280.61 492.50,280.61 493.00,280.62 493.50,280.62 494.00,280.62 494.50,280.62 495.00,280.62 495.50,280.63 496.00,280.63 496.50,280.63 497.00,280.63 497.50,280.63 498.00,280.64 498.50,280.64 499.00,280.64 499.50,280.64 500.00,280.64 500.50,280.64 501.00,280.64 501.50,280.65 502.00,280.65 502.50,280.65 503.00,280.65 503.50,280.65 504.00,280.65 504.50,280.65 505.00,280.65 505.50,280.65 506.00,280.65 506.50,280.66 507.00,280.66 507.50,280.66 508.00,280.66 508.50,280.66 509.00,280.66 509.50,280.66 510.00,280.66 510.50,280.66 511.00,280.66 511.50,280.66 512.00,280.66 512.50,280.66 513.00,280.67 513.50,280.67 514.00,280.67 514.50,280.67 515.00,280.67 515.50,280.67 516.00,280.67 516.50,280.67 517.00,280.67 517.50,280.67"/>
<polyline fill="none" stroke="#000000" stroke-width="2.0" stroke-linejoin="round" points="45.00,346.28 45.50,346.32 46.00,346.35 46.50,346.39 47.00,346.43 47.50,346.47 48.00,346.50 48.50,346.54 49.00,346.58 49.50,346.61 50.00,346.65 50.50,346.69 51.00,346.72 51.50,346.76 52.00,346.79 52.50,346.83 53.00,346.87 53.50,346.90 54.00,346.94 54.50,346.98 55.00,347.01 55.50,347.05 56.00,347.08 56.50,347.12 57.00,347.16 57.50,347.19 58.00,347.23 58.50,347.26 59.00,347.30 59.50,347.33 60.00,347.36 60.50,347.40 61.00,347.43 61.50,347.47 62.00,347.50 62.50,347.53 63.00,347.56 63.50,347.60 64.00,347.63 64.50,347.66 65.00,347.69 65.50,347.70 66.00,347.71 66.50,347.72 67.00,347.73 67.50,347.74 68.00,347.74 68.50,347.75 69.00,347.74 69.50,347.74 70.00,347.73 70.50,347.71 71.00,347.68 71.50,347.65 72.00,347.59 72.50,347.52 73.00,347.41 73.50,347.24 74.00,346.94 74.50,346.32 74.80,345.64 75.00,344.98 75.05,344.79 75.30,343.59 75.50,342.32 75.55,341.96 75.80,339.82 76.00,337.73 76.05,337.15 76.30,333.96 76.50,331.12 76.55,330.38 76.80,326.60 77.00,323.65 77.05,322.94 77.30,319.80 77.50,317.98 77.55,317.66 77.80,316.89 78.00,317.40 78.05,317.68 78.30,319.85 78.50,322.32 78.55,323.01 78.80,326.69 79.00,329.74 79.05,330.49 79.30,334.10 79.50,336.70 79.55,337.31 79.80,340.00 80.00,341.77 80.05,342.16 80.30,343.81 80.50,344.82 80.55,345.03 80.80,345.91 81.00,346.41 81.50,347.18 82.00,347.57 82.50,347.81 83.00,347.97 83.50,348.09 84.00,348.19 84.50,348.28 85.00,348.35 85.50,348.41 86.00,348.47 86.50,348.51 87.00,348.56 87.50,348.59 88.00,348.63 88.50,348.66 89.00,348.70 89.50,348.73 90.00,348.75 90.50,348.78 91.00,348.81 91.50,348.83 92.00,348.86 92.50,348.88 93.00,348.91 93.50,348.93 94.00,348.95 94.50,348.97 95.00,348.99 95.50,349.02 96.00,349.04 96.50,349.06 97.00,349.08 97.50,349.10 98.00,349.12 98.50,349.14 99.00,349.16 99.50,349.18 100.00,349.20 100.50,349.22 101.00,349.24 101.50,349.26 102.00,349.28 102.50,349.30 103.00,349.32 103.50,349.33 104.00,349.35 104.50,349.37 105.00,349.39 105.50,349.41 106.00,349.43 106.50,349.45 107.00,349.47 107.50,349.49 108.00,349.50 108.50,349.52 109.00,349.54 109.50,349.56 110.00,349.58 110.50,349.59 111.00,349.60 111.50,349.62 112.00,349.63 112.50,349.64 113.00,349.66 113.50,349.67 114.00,349.68 114.50,349.70 115.00,349.71 115.50,349.72 116.00,349.74 116.50,349.75 117.00,349.76 117.50,349.78 118.00,349.79 118.50,349.80 119.00,349.82 119.50,349.83 120.00,349.84 120.50,349.86 121.00,349.87 121.50,349.88 122.00,349.89 122.50,349.91 123.00,349.92 123.50,349.93 124.00,349.95 124.50,349.96 125.00,349.97 125.50,349.99 126.00,350.00 126.50,350.01 127.00,350.02 127.50,350.04 128.00,350.05 128.50,350.06 129.00,350.08 129.50,350.09 130.00,350.10 130.50,350.12 131.00,350.13 131.50,350.14 132.00,350.15 132.50,350.17 133.00,350.18 133.50,350.19 134.00,350.21 134.50,350.22 135.00,350.23 135.50,350.24 136.00,350.26 136.50,350.27 137.00,350.28 137.50,350.30 138.00,350.31 138.50,350.32 139.00,350.33 139.50,350.35 140.00,350.36 140.50,350.37 141.00,350.39 141.50,350.40 142.00,350.41 142.50,350.42 143.00,350.44 143.50,350.45 144.00,350.46 144.50,350.48 145.00,350.49 145.50,350.50 146.00,350.50 146.50,350.51 147.00,350.51 147.50,350.52 148.00,350.53 148.50,350.53 149.00,350.54 149.50,350.55 150.00,350.55 150.50,350.56 151.00,350.57 151.50,350.57 152.00,350.58 152.50,350.58 153.00,350.59 153.50,350.60 154.00,350.60 154.50,350.61 155.00,350.62 155.50,350.62 156.00,350.63 156.50,350.64 157.00,350.64 157.50,350.65 158.00,350.65 158.50,350.66 159.00,350.67 159.50,350.67 160.00,350.68 160.50,350.69 161.00,350.69 161.50,350.70 162.00,350.71 162.50,350.71 163.00,350.72 163.50,350.72 164.00,350.73 164.50,350.74 165.00,350.74 165.50,350.75 166.00,350.75 166.50,350.76 167.00,350.77 167.50,350.77 168.00,350.78 168.50,350.78 169.00,350.79 169.50,350.80 170.00,350.80 170.50,350.81 171.00,350.81 171.50,350.82 172.00,350.83 172.50,350.83 173.00,350.84 173.50,350.84 174.00,350.85 174.50,350.85 175.00,350.86 175.50,350.86 176.00,350.87 176.50,350.87 177.00,350.88 177.50,350.88 178.00,350.89 178.50,350.89 179.00,350.89 179.50,350.90 180.00,350.90 180.50,350.90 181.00,350.90 181.50,350.91 182.00,350.91 182.50,350.91 183.00,350.90 183.50,350.90 184.00,350.90 184.50,350.89 185.00,350.88 185.50,350.86 186.00,350.84 186.50,350.81 187.00,350.77 187.50,350.69 188.00,350.54 188.50,350.22 188.60,350.13 188.85,349.84 189.00,349.62 189.10,349.45 189.35,348.93 189.50,348.56 189.60,348.29 189.85,347.51 190.00,346.99 190.10,346.62 190.35,345.65 190.50,345.05 190.60,344.65 190.85,343.71 191.00,343.21 191.10,342.92 191.35,342.38 191.50,342.22 191.60,342.19 191.85,342.39 192.00,342.68 192.10,342.93 192.35,343.73 192.50,344.29 192.60,344.68 192.85,345.68 193.00,346.28 193.10,346.66 193.35,347.56 193.50,348.04 193.60,348.34 193.85,348.99 194.00,349.32 194.10,349.51 194.35,349.91 194.50,350.10 194.60,350.21 195.00,350.52 195.50,350.74 196.00,350.86 196.50,350.92 197.00,350.97 197.50,351.01 198.00,351.04 198.50,351.06 199.00,351.08 199.50,351.10 200.00,351.12 200.50,351.13 201.00,351.15 201.50,351.16 202.00,351.17 202.50,351.18 203.00,351.19 203.50,351.20 204.00,351.21 204.50,351.22 205.00,351.23 205.50,351.24 206.00,351.25 206.50,351.26 207.00,351.26 207.50,351.27 208.00,351.28 208.50,351.29 209.00,351.30 209.50,351.30 210.00,351.31 210.50,351.32 211.00,351.33 211.50,351.33 212.00,351.34 212.50,351.35 213.00,351.35 213.50,351.36 214.00,351.37 214.50,351.37 215.00,351.38 215.50,351.39 216.00,351.39 216.50,351.40 217.00,351.41 217.50,351.41 218.00,351.42 218.50,351.43 219.00,351.43 219.50,351.44 220.00,351.45 220.50,351.45 221.00,351.46 221.50,351.47 222.00,351.47 222.50,351.48 223.00,351.49 223.50,351.49 224.00,351.50 224.50,351.51 225.00,351.51 225.50,351.52 226.00,351.52 226.50,351.53 227.00,351.54 227.50,351.54 228.00,351.55 228.50,351.56 229.00,351.56 229.50,351.57 230.00,351.58 230.50,351.58 231.00,351.58 231.50,351.59 232.00,351.59 232.50,351.59 233.00,351.60 233.50,351.60 234.00,351.61 234.50,351.61 235.00,351.61 235.50,351.62 236.00,351.62 236.50,351.62 237.00,351.63 237.50,351.63 238.00,351.63 238.50,351.64 239.00,351.64 239.50,351.65 240.00,351.65 240.50,351.65 241.00,351.66 241.50,351.66 242.00,351.66 242.50,351.67 243.00,351.67 243.50,351.67 244.00,351.68 244.50,351.68 245.00,351.68 245.50,351.69 246.00,351.69 246.50,351.69 247.00,351.70 247.50,351.70 248.00,351.70 248.50,351.71 249.00,351.71 249.50,351.71 250.00,351.72 250.50,351.72 251.00,351.72 251.50,351.72 252.00,351.73 252.50,351.73 253.00,351.73 253.50,351.73 254.00,351.74 254.50,351.74 255.00,351.74 255.50,351.74 256.00,351.75 256.50,351.75 257.00,351.75 257.50,351.75 258.00,351.76 258.50,351.76 259.00,351.76 259.50,351.76 260.00,351.76 260.50,351.76 261.00,351.76 261.50,351.76 262.00,351.77 262.50,351.77 263.00,351.77 263.50,351.77 264.00,351.77 264.50,351.77 265.00,351.76 265.50,351.76 266.00,351.76 266.50,351.76 267.00,351.76 267.50,351.75 268.00,351.75 268.50,351.75 269.00,351.74 269.50,351.73 270.00,351.73 270.50,351.72 271.00,351.71 271.50,351.70 272.00,351.69 272.50,351.67 273.00,351.66 273.50,351.64 274.00,351.62 274.50,351.60 275.00,351.57 275.50,351.54 276.00,351.50 276.50,351.45 277.00,351.40 277.50,351.34 278.00,351.27 278.50,351.18 279.00,351.07 279.50,350.94 280.00,350.77 280.50,350.54 281.00,350.21 281.50,349.66 282.00,348.68 282.50,346.87 283.00,343.64 283.25,341.28 283.50,338.34 283.75,334.76 284.00,330.57 284.25,325.81 284.50,320.62 284.75,315.22 285.00,309.91 285.25,305.05 285.50,301.10 285.75,298.50 286.00,297.59 286.25,298.50 286.50,301.11 286.75,305.06 287.00,309.92 287.25,315.24 287.50,320.64 287.75,325.83 288.00,330.60 288.25,334.80 288.50,338.38 288.75,341.33 289.00,343.69 289.50,346.93 290.00,348.75 290.50,349.73 291.00,350.29 291.50,350.63 292.00,350.86 292.50,351.04 293.00,351.18 293.50,351.30 294.00,351.39 294.50,351.47 295.00,351.54 295.50,351.60 296.00,351.65 296.50,351.70 297.00,351.74 297.50,351.78 298.00,351.81 298.50,351.84 299.00,351.86 299.50,351.89 300.00,351.91 300.50,351.93 301.00,351.94 301.50,351.96 302.00,351.98 302.50,351.99 303.00,352.01 303.50,352.02 304.00,352.03 304.50,352.04 305.00,352.05 305.50,352.06 306.00,352.07 306.50,352.08 307.00,352.09 307.50,352.10 308.00,352.11 308.50,352.12 309.00,352.12 309.50,352.13 310.00,352.14 310.50,352.15 311.00,352.15 311.50,352.16 312.00,352.17 312.50,352.17 313.00,352.18 313.50,352.18 314.00,352.19 314.50,352.20 315.00,352.20 315.50,352.21 316.00,352.21 316.50,352.22 317.00,352.22 317.50,352.23 318.00,352.23 318.50,352.24 319.00,352.24 319.50,352.25 320.00,352.25 320.50,352.26 321.00,352.26 321.50,352.27 322.00,352.27 322.50,352.28 323.00,352.28 323.50,352.28 324.00,352.29 324.50,352.29 325.00,352.30 325.50,352.30 326.00,352.31 326.50,352.31 327.00,352.31 327.50,352.32 328.00,352.32 328.50,352.33 329.00,352.33 329.50,352.33 330.00,352.34 330.50,352.34 331.00,352.34 331.50,352.34 332.00,352.34 332.50,352.34 333.00,352.34 333.50,352.35 334.00,352.35 334.50,352.35 335.00,352.35 335.50,352.35 336.00,352.35 336.50,352.35 337.00,352.35 337.50,352.35 338.00,352.35 338.50,352.36 339.00,352.36 339.50,352.36 340.00,352.36 340.50,352.36 341.00,352.36 341.50,352.36 342.00,352.36 342.50,352.36 343.00,352.36 343.50,352.36 344.00,352.36 344.50,352.36 345.00,352.36 345.50,352.35 346.00,352.35 346.50,352.35 347.00,352.35 347.50,352.35 348.00,352.35 348.50,352.35 349.00,352.34 349.50,352.34 350.00,352.34 350.50,352.34 351.00,352.33 351.50,352.33 352.00,352.32 352.50,352.32 353.00,352.31 353.50,352.31 354.00,352.30 354.50,352.30 355.00,352.29 355.50,352.28 356.00,352.27 356.50,352.26 357.00,352.25 357.50,352.24 358.00,352.22 358.50,352.21 359.00,352.19 359.50,352.17 360.00,352.15 360.50,352.13 361.00,352.10 361.50,352.07 362.00,352.04 362.50,352.00 363.00,351.95 363.50,351.90 364.00,351.84 364.50,351.77 365.00,351.69 365.50,351.59 366.00,351.48 366.50,351.33 367.00,351.16 367.50,350.93 368.00,350.60 368.50,350.10 369.00,349.26 369.50,347.79 370.00,345.29 370.50,341.25 370.60,340.22 370.85,337.26 371.00,335.22 371.10,333.75 371.35,329.71 371.50,327.05 371.60,325.18 371.85,320.26 372.00,317.18 372.10,315.10 372.35,309.91 372.50,306.89 372.60,304.95 372.85,300.55 373.00,298.31 373.10,297.04 373.35,294.77 373.50,294.11 373.60,293.99 373.85,294.77 374.00,295.97 374.10,297.05 374.35,300.55 374.50,303.11 374.60,304.96 374.85,309.92 375.00,313.03 375.10,315.11 375.35,320.27 375.50,323.27 375.60,325.20 375.85,329.73 376.00,332.22 376.10,333.77 376.35,337.28 376.50,339.12 376.60,340.24 377.00,343.91 377.50,346.97 378.00,348.79 378.50,349.85 379.00,350.47 379.50,350.85 380.00,351.12 380.50,351.32 381.00,351.47 381.50,351.60 382.00,351.71 382.50,351.80 383.00,351.88 383.50,351.94 384.00,352.00 384.50,352.05 385.00,352.10 385.50,352.14 386.00,352.17 386.50,352.21 387.00,352.23 387.50,352.26 388.00,352.28 388.50,352.30 389.00,352.32 389.50,352.34 390.00,352.36 390.50,352.37 391.00,352.39 391.50,352.40 392.00,352.41 392.50,352.42 393.00,352.43 393.50,352.44 394.00,352.45 394.50,352.46 395.00,352.47 395.50,352.47 396.00,352.48 396.50,352.49 397.00,352.50 397.50,352.50 398.00,352.51 398.50,352.51 399.00,352.52 399.50,352.52 400.00,352.53 400.50,352.53 401.00,352.54 401.50,352.54 402.00,352.55 402.50,352.55 403.00,352.55 403.50,352.56 404.00,352.56 404.50,352.57 405.00,352.57 405.50,352.57 406.00,352.57 406.50,352.58 407.00,352.58 407.50,352.58 408.00,352.59 408.50,352.59 409.00,352.59 409.50,352.59 410.00,352.60 410.50,352.60 411.00,352.60 411.50,352.60 412.00,352.61 412.50,352.61 413.00,352.61 413.50,352.61 414.00,352.61 414.50,352.62 415.00,352.62 415.50,352.62 416.00,352.62 416.50,352.62 417.00,352.62 417.50,352.62 418.00,352.62 418.50,352.62 419.00,352.61 419.50,352.61 420.00,352.61 420.50,352.61 421.00,352.61 421.50,352.61 422.00,352.61 422.50,352.61 423.00,352.61 423.50,352.61 424.00,352.61 424.50,352.60 425.00,352.60 425.50,352.60 426.00,352.60 426.50,352.60 427.00,352.60 427.50,352.59 428.00,352.59 428.50,352.59 429.00,352.59 429.50,352.58 430.00,352.58 430.50,352.58 431.00,352.57 431.50,352.57 432.00,352.57 432.50,352.56 433.00,352.56 433.50,352.56 434.00,352.55 434.50,352.55 435.00,352.54 435.50,352.54 436.00,352.53 436.50,352.52 437.00,352.52 437.50,352.51 438.00,352.50 438.50,352.49 439.00,352.49 439.50,352.48 440.00,352.47 440.50,352.45 441.00,352.44 441.50,352.43 442.00,352.41 442.50,352.40 443.00,352.38 443.50,352.36 444.00,352.34 444.50,352.32 445.00,352.30 445.50,352.27 446.00,352.24 446.50,352.21 447.00,352.17 447.50,352.13 448.00,352.08 448.50,352.03 449.00,351.97 449.50,351.90 450.00,351.82 450.50,351.73 451.00,351.62 451.50,351.49 452.00,351.34 452.50,351.15 453.00,350.91 453.50,350.58 454.00,350.09 454.50,349.32 455.00,348.05 455.50,345.98 456.00,342.69 456.50,337.79 456.70,335.30 456.95,331.74 457.00,330.97 457.20,327.70 457.45,323.21 457.50,322.27 457.70,318.36 457.95,313.25 458.00,312.21 458.20,308.04 458.45,302.93 458.50,301.94 458.70,298.16 458.95,294.02 459.00,293.29 459.20,290.78 459.45,288.70 459.50,288.45 459.70,287.99 459.95,288.70 460.00,289.01 460.20,290.78 460.45,294.02 460.50,294.78 460.70,298.16 460.95,302.93 461.00,303.93 461.20,308.04 461.45,313.25 461.50,314.28 461.70,318.36 461.95,323.22 462.00,324.15 462.20,327.70 462.45,331.74 462.50,332.49 462.70,335.30 463.00,338.92 463.50,343.47 464.00,346.48 464.50,348.36 465.00,349.51 465.50,350.21 466.00,350.66 466.50,350.97 467.00,351.20 467.50,351.38 468.00,351.52 468.50,351.65 469.00,351.75 469.50,351.84 470.00,351.92 470.50,351.98 471.00,352.04 471.50,352.10 472.00,352.14 472.50,352.18 473.00,352.22 473.50,352.25 474.00,352.28 474.50,352.31 475.00,352.33 475.50,352.36 476.00,352.38 476.50,352.39 477.00,352.41 477.50,352.43 478.00,352.44 478.50,352.45 479.00,352.47 479.50,352.48 480.00,352.49 480.50,352.50 481.00,352.51 481.50,352.51 482.00,352.52 482.50,352.53 483.00,352.54 483.50,352.54 484.00,352.55 484.50,352.56 485.00,352.56 485.50,352.57 486.00,352.57 486.50,352.58 487.00,352.58 487.50,352.58 488.00,352.59 488.50,352.59 489.00,352.59 489.50,352.60 490.00,352.60 490.50,352.60 491.00,352.61 491.50,352.61 492.00,352.61 492.50,352.61 493.00,352.62 493.50,352.62 494.00,352.62 494.50,352.62 495.00,352.63 495.50,352.63 496.00,352.63 496.50,352.63 497.00,352.63 497.50,352.63 498.00,352.64 498.50,352.64 499.00,352.64 499.50,352.64 500.00,352.64 500.50,352.64 501.00,352.64 501.50,352.65 502.00,352.65 502.50,352.65 503.00,352.65 503.50,352.65 504.00,352.65 504.50,352.65 505.00,352.65 505.50,352.65 506.00,352.66 506.50,352.66 507.00,352.66 507.50,352.66 508.00,352.66 508.50,352.66 509.00,352.66 509.50,352.66 510.00,352.66 510.50,352.66 511.00,352.66 511.50,352.66 512.00,352.66 512.50,352.66 513.00,352.67 513.50,352.67 514.00,352.67 514.50,352.67 515.00,352.67 515.50,352.67 516.00,352.67 516.50,352.67 517.00,352.67 517.50,352.67"/>
<rect x="44.80" y="15.00" width="473.00" height="352.50" fill="none" stroke="#000" stroke-width="1.80"/>
<line x1="44.80" y1="191.50" x2="517.80" y2="191.50" stroke="#000" stroke-width="1.60"/>
<line x1="76.33" y1="367.50" x2="76.33" y2="361.30" stroke="#000" stroke-width="1.5"/>
<line x1="139.40" y1="367.50" x2="139.40" y2="361.30" stroke="#000" stroke-width="1.5"/>
<line x1="202.47" y1="367.50" x2="202.47" y2="361.30" stroke="#000" stroke-width="1.5"/>
<line x1="265.53" y1="367.50" x2="265.53" y2="361.30" stroke="#000" stroke-width="1.5"/>
<line x1="328.60" y1="367.50" x2="328.60" y2="361.30" stroke="#000" stroke-width="1.5"/>
<line x1="391.67" y1="367.50" x2="391.67" y2="361.30" stroke="#000" stroke-width="1.5"/>
<line x1="454.73" y1="367.50" x2="454.73" y2="361.30" stroke="#000" stroke-width="1.5"/>
<line x1="517.80" y1="367.50" x2="517.80" y2="361.30" stroke="#000" stroke-width="1.5"/>
<line x1="107.87" y1="367.50" x2="107.87" y2="364.20" stroke="#000" stroke-width="1.5"/>
<line x1="170.93" y1="367.50" x2="170.93" y2="364.20" stroke="#000" stroke-width="1.5"/>
<line x1="234.00" y1="367.50" x2="234.00" y2="364.20" stroke="#000" stroke-width="1.5"/>
<line x1="297.07" y1="367.50" x2="297.07" y2="364.20" stroke="#000" stroke-width="1.5"/>
<line x1="360.13" y1="367.50" x2="360.13" y2="364.20" stroke="#000" stroke-width="1.5"/>
<line x1="423.20" y1="367.50" x2="423.20" y2="364.20" stroke="#000" stroke-width="1.5"/>
<line x1="486.27" y1="367.50" x2="486.27" y2="364.20" stroke="#000" stroke-width="1.5"/>
<text x="44.80" y="385.00" class="tk">35</text>
<text x="76.33" y="385.00" class="tk">40</text>
<text x="139.40" y="385.00" class="tk">50</text>
<text x="202.47" y="385.00" class="tk">60</text>
<text x="265.53" y="385.00" class="tk">70</text>
<text x="328.60" y="385.00" class="tk">80</text>
<text x="391.67" y="385.00" class="tk">90</text>
<text x="454.73" y="385.00" class="tk">100</text>
<text x="517.80" y="385.00" class="tk">110</text>
<text x="63.21" y="38.31" class="n" textLength="39.99" lengthAdjust="spacingAndGlyphs" style="font-size:16.90px">(110)</text>
<text x="174.06" y="91.75" class="n" textLength="39.82" lengthAdjust="spacingAndGlyphs" style="font-size:16.90px">(200)</text>
<text x="264.56" y="86.56" class="n" textLength="39.68" lengthAdjust="spacingAndGlyphs" style="font-size:16.90px">(211)</text>
<text x="354.43" y="96.89" class="n" textLength="39.54" lengthAdjust="spacingAndGlyphs" style="font-size:16.90px">(220)</text>
<text x="439.63" y="91.59" class="n" textLength="39.84" lengthAdjust="spacingAndGlyphs" style="font-size:16.90px">(310)</text>
<text x="485.79" y="34.43" class="b" textLength="17.46" lengthAdjust="spacingAndGlyphs" style="font-size:19.50px">W</text>
<text x="447.95" y="209.73" class="b" textLength="63.39" lengthAdjust="spacingAndGlyphs" style="font-size:18.20px">ODS-W</text>
<text x="87.11" y="110.23" class="n" textLength="71.37" lengthAdjust="spacingAndGlyphs" style="font-size:16.60px">Irradiated</text>
<text x="90.75" y="176.78" class="n" textLength="56.46" lengthAdjust="spacingAndGlyphs" style="font-size:16.60px">Pristine</text>
<text x="84.91" y="273.51" class="n" textLength="71.29" lengthAdjust="spacingAndGlyphs" style="font-size:16.60px">Irradiated</text>
<text x="88.76" y="343.37" class="n" textLength="56.37" lengthAdjust="spacingAndGlyphs" style="font-size:16.60px">Pristine</text>
<text x="250.88" y="407.08" class="b" textLength="89.78" lengthAdjust="spacingAndGlyphs" style="font-size:18.50px">2 Theta (°)</text>
<text transform="translate(28.65,261.05) rotate(-90)" class="b" textLength="135.39" lengthAdjust="spacingAndGlyphs" style="font-size:19.20px">Intensity (a.u.)</text>
</svg>
</body></html>
